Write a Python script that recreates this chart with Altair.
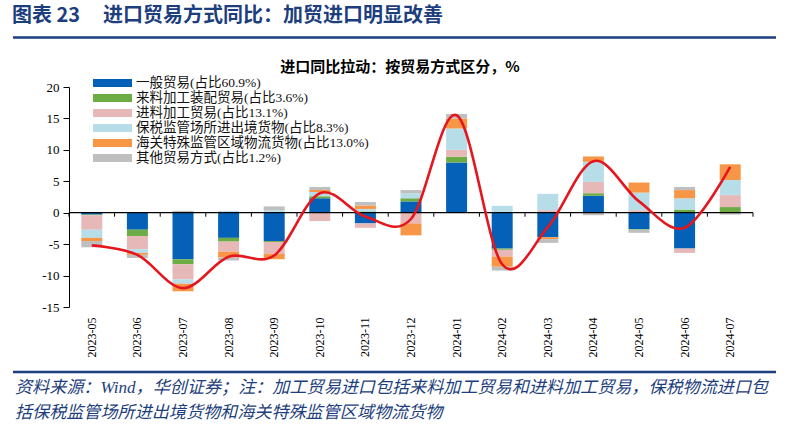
import altair as alt
import pandas as pd

# ---- data -------------------------------------------------------------
months = ["2023-05", "2023-06", "2023-07", "2023-08", "2023-09", "2023-10", "2023-11",
          "2023-12", "2024-01", "2024-02", "2024-03", "2024-04", "2024-05", "2024-06",
          "2024-07"]

series_names = [
    "一般贸易(占比60.9%)",
    "来料加工装配贸易(占比3.6%)",
    "进料加工贸易(占比13.1%)",
    "保税监管场所进出境货物(占比8.3%)",
    "海关特殊监管区域物流货物(占比13.0%)",
    "其他贸易方式(占比1.2%)",
]

general_trade = [-0.3, -2.7, -7.4, -4.0, -4.5, 2.3, -1.7, 1.8, 8.0, -5.7, -3.9, 2.7, -2.6, -5.7, 0.1]
processing_assembly = [-0.1, -1.0, -0.8, -0.6, -0.15, 0.3, 0.2, 0.5, 0.9, -0.2, 0.1, 0.4, -0.1, 0.5, 0.8]
processing_imported = [-2.3, -2.1, -2.4, -1.6, -1.9, -1.3, -0.7, -1.7, 1.1, -1.1, 0.3, 1.8, 0.4, -0.7, 1.9]
bonded_sites = [-1.3, -0.6, -0.7, 0.3, 0.4, 0.7, 0.4, 0.8, 3.4, 1.1, 2.6, 3.2, 2.8, 1.8, 2.4]
special_zones = [-0.5, -0.3, -1.2, -0.9, -0.85, 0.3, 0.55, -1.9, 1.6, -1.6, -0.3, 0.85, 1.6, 1.3, 2.5]
other_trade = [-1.0, -0.5, 0.3, -0.5, 0.6, 0.5, 0.55, 0.5, 0.7, -0.6, -0.6, -0.4, -0.5, 0.5, -0.3]

import_yoy_total = [-5.2, -6.7, -12.0, -7.0, -6.8, 3.1, -0.6, -1.0, 15.5, -8.2, -2.3, 8.2, 1.8, -2.4, 7.3]

y_ticks = [-15, -10, -5, 0, 5, 10, 15, 20]

series_colors = ["#0560B8", "#6DAB45", "#E6B8B7", "#B7DDE8", "#F79646", "#BFBFBF"]

title_tag = "图表 23"
title_text = "进口贸易方式同比：加贸进口明显改善"
chart_title = "进口同比拉动：按贸易方式区分，%"
footer_1 = "资料来源：Wind，华创证券；注：加工贸易进口包括来料加工贸易和进料加工贸易，保税物流进口包"
footer_2 = "括保税监管场所进出境货物和海关特殊监管区域物流货物"

# ---- tables -----------------------------------------------------------
all_series = [general_trade, processing_assembly, processing_imported,
              bonded_sites, special_zones, other_trade]
rows = []
for idx, (name, vals) in enumerate(zip(series_names, all_series)):
    for m, v in zip(months, vals):
        rows.append({"month": m, "series": name, "idx": idx, "value": v})
bar_df = pd.DataFrame(rows)
total_df = pd.DataFrame({"month": months, "total": import_yoy_total})
legend_df = pd.DataFrame({"series": series_names})
one = pd.DataFrame({"k": [0]})

# ---- styling ----------------------------------------------------------
W, H = 684, 220
NAVY = "#1D3E7C"
SERIF = "Liberation Serif, Noto Sans CJK SC"
CJK = "Noto Sans CJK SC"

color_scale = alt.Scale(domain=series_names, range=series_colors)
y_scale = alt.Scale(domain=[-15, 20], nice=False, zero=False)
x_scale = alt.Scale(paddingInner=0, paddingOuter=0)

x_axis = alt.Axis(title=None, labelAngle=-90, domain=False, ticks=False, labelPadding=10,
                  labelFont="Liberation Serif", labelFontSize=12, labelColor="#000")
y_axis = alt.Axis(title=None, values=y_ticks, grid=False, domainColor="#000", tickColor="#000",
                  tickSize=6, labelPadding=4, labelFont="Liberation Serif", labelFontSize=13,
                  labelColor="#000", labelExpr="'' + datum.value", labelOverlap=False,
                  labelFlush=False)

# ---- plot layers ------------------------------------------------------
bars = alt.Chart(bar_df).mark_bar(size=21).encode(
    x=alt.X("month:N", sort=months, scale=x_scale, axis=x_axis),
    y=alt.Y("value:Q", stack="zero", scale=y_scale, axis=y_axis),
    color=alt.Color("series:N", scale=color_scale, legend=None),
    order=alt.Order("idx:Q", sort="ascending"),
)

zero_line = alt.Chart(one).mark_rule(color="#000", strokeWidth=1.3).encode(
    y=alt.YDatum(0, axis=None), x=alt.value(0), x2=alt.value(W)
)

boundary_ticks = alt.Chart(total_df).mark_rule(color="#000", strokeWidth=1, y2Offset=4).encode(
    x=alt.X("month:N", sort=months, bandPosition=0, axis=None),
    y=alt.YDatum(0, axis=None), y2=alt.datum(0),
)
end_tick = alt.Chart(one).mark_rule(color="#000", strokeWidth=1, y2Offset=4).encode(
    x=alt.value(W), y=alt.YDatum(0, axis=None), y2=alt.datum(0)
)

total_line = alt.Chart(total_df).mark_line(
    color="#E5161D", strokeWidth=2.6, interpolate="cardinal"
).encode(
    x=alt.X("month:N", sort=months, axis=None),
    y=alt.Y("total:Q", axis=None),
)

main = alt.layer(bars, zero_line, boundary_ticks, end_tick, total_line).resolve_axis(
    x="independent", y="independent"
)

# ---- legend -----------------------------------------------------------
leg_y = alt.Y("series:N", sort=series_names, axis=None,
              scale=alt.Scale(type="point", range=[-4, 71], padding=0))
leg_swatch = alt.Chart(legend_df).mark_rule(strokeWidth=8, strokeCap="butt").encode(
    x=alt.value(24), x2=alt.value(63), y=leg_y,
    color=alt.Color("series:N", scale=color_scale, legend=None),
)
leg_text = alt.Chart(legend_df).mark_text(
    align="left", baseline="middle", font=SERIF, fontSize=13.5, color="#111"
).encode(x=alt.value(67), y=leg_y, text="series:N")
legend = alt.layer(leg_swatch, leg_text)

# ---- titles, rules and notes -----------------------------------------
def label(text, x, y, **kw):
    return alt.Chart(one).mark_text(text=text, baseline="middle", **kw).encode(
        x=alt.value(x), y=alt.value(y))

def hrule(y):
    return alt.Chart(one).mark_rule(color=NAVY, strokeWidth=2.5).encode(
        x=alt.value(-56), x2=alt.value(707), y=alt.value(y))

decor = alt.layer(
    label(title_tag, -57, -71, align="left", font=CJK, fontSize=20, fontWeight="bold", color=NAVY),
    label(title_text, 34, -71, align="left", font=CJK, fontSize=20, fontWeight="bold", color=NAVY),
    hrule(-49.5),
    label(chart_title, 331, -20, align="center", font=CJK, fontSize=15, fontWeight="bold", color="#000"),
    hrule(285),
    label(footer_1, -54, 301, align="left", font=SERIF, fontSize=17.1, fontStyle="italic", color=NAVY),
    label(footer_2, -54, 326, align="left", font=SERIF, fontSize=17.1, fontStyle="italic", color=NAVY),
)

chart = alt.layer(main, legend, decor).resolve_scale(y="independent").properties(
    width=W, height=H,
    padding={"left": 69, "top": 87, "right": 36, "bottom": 133},
    autosize=alt.AutoSizeParams(type="none"),
    background="white",
).configure_view(stroke=None)

chart.save("out.html", embed_options={"renderer": "svg", "actions": False})
